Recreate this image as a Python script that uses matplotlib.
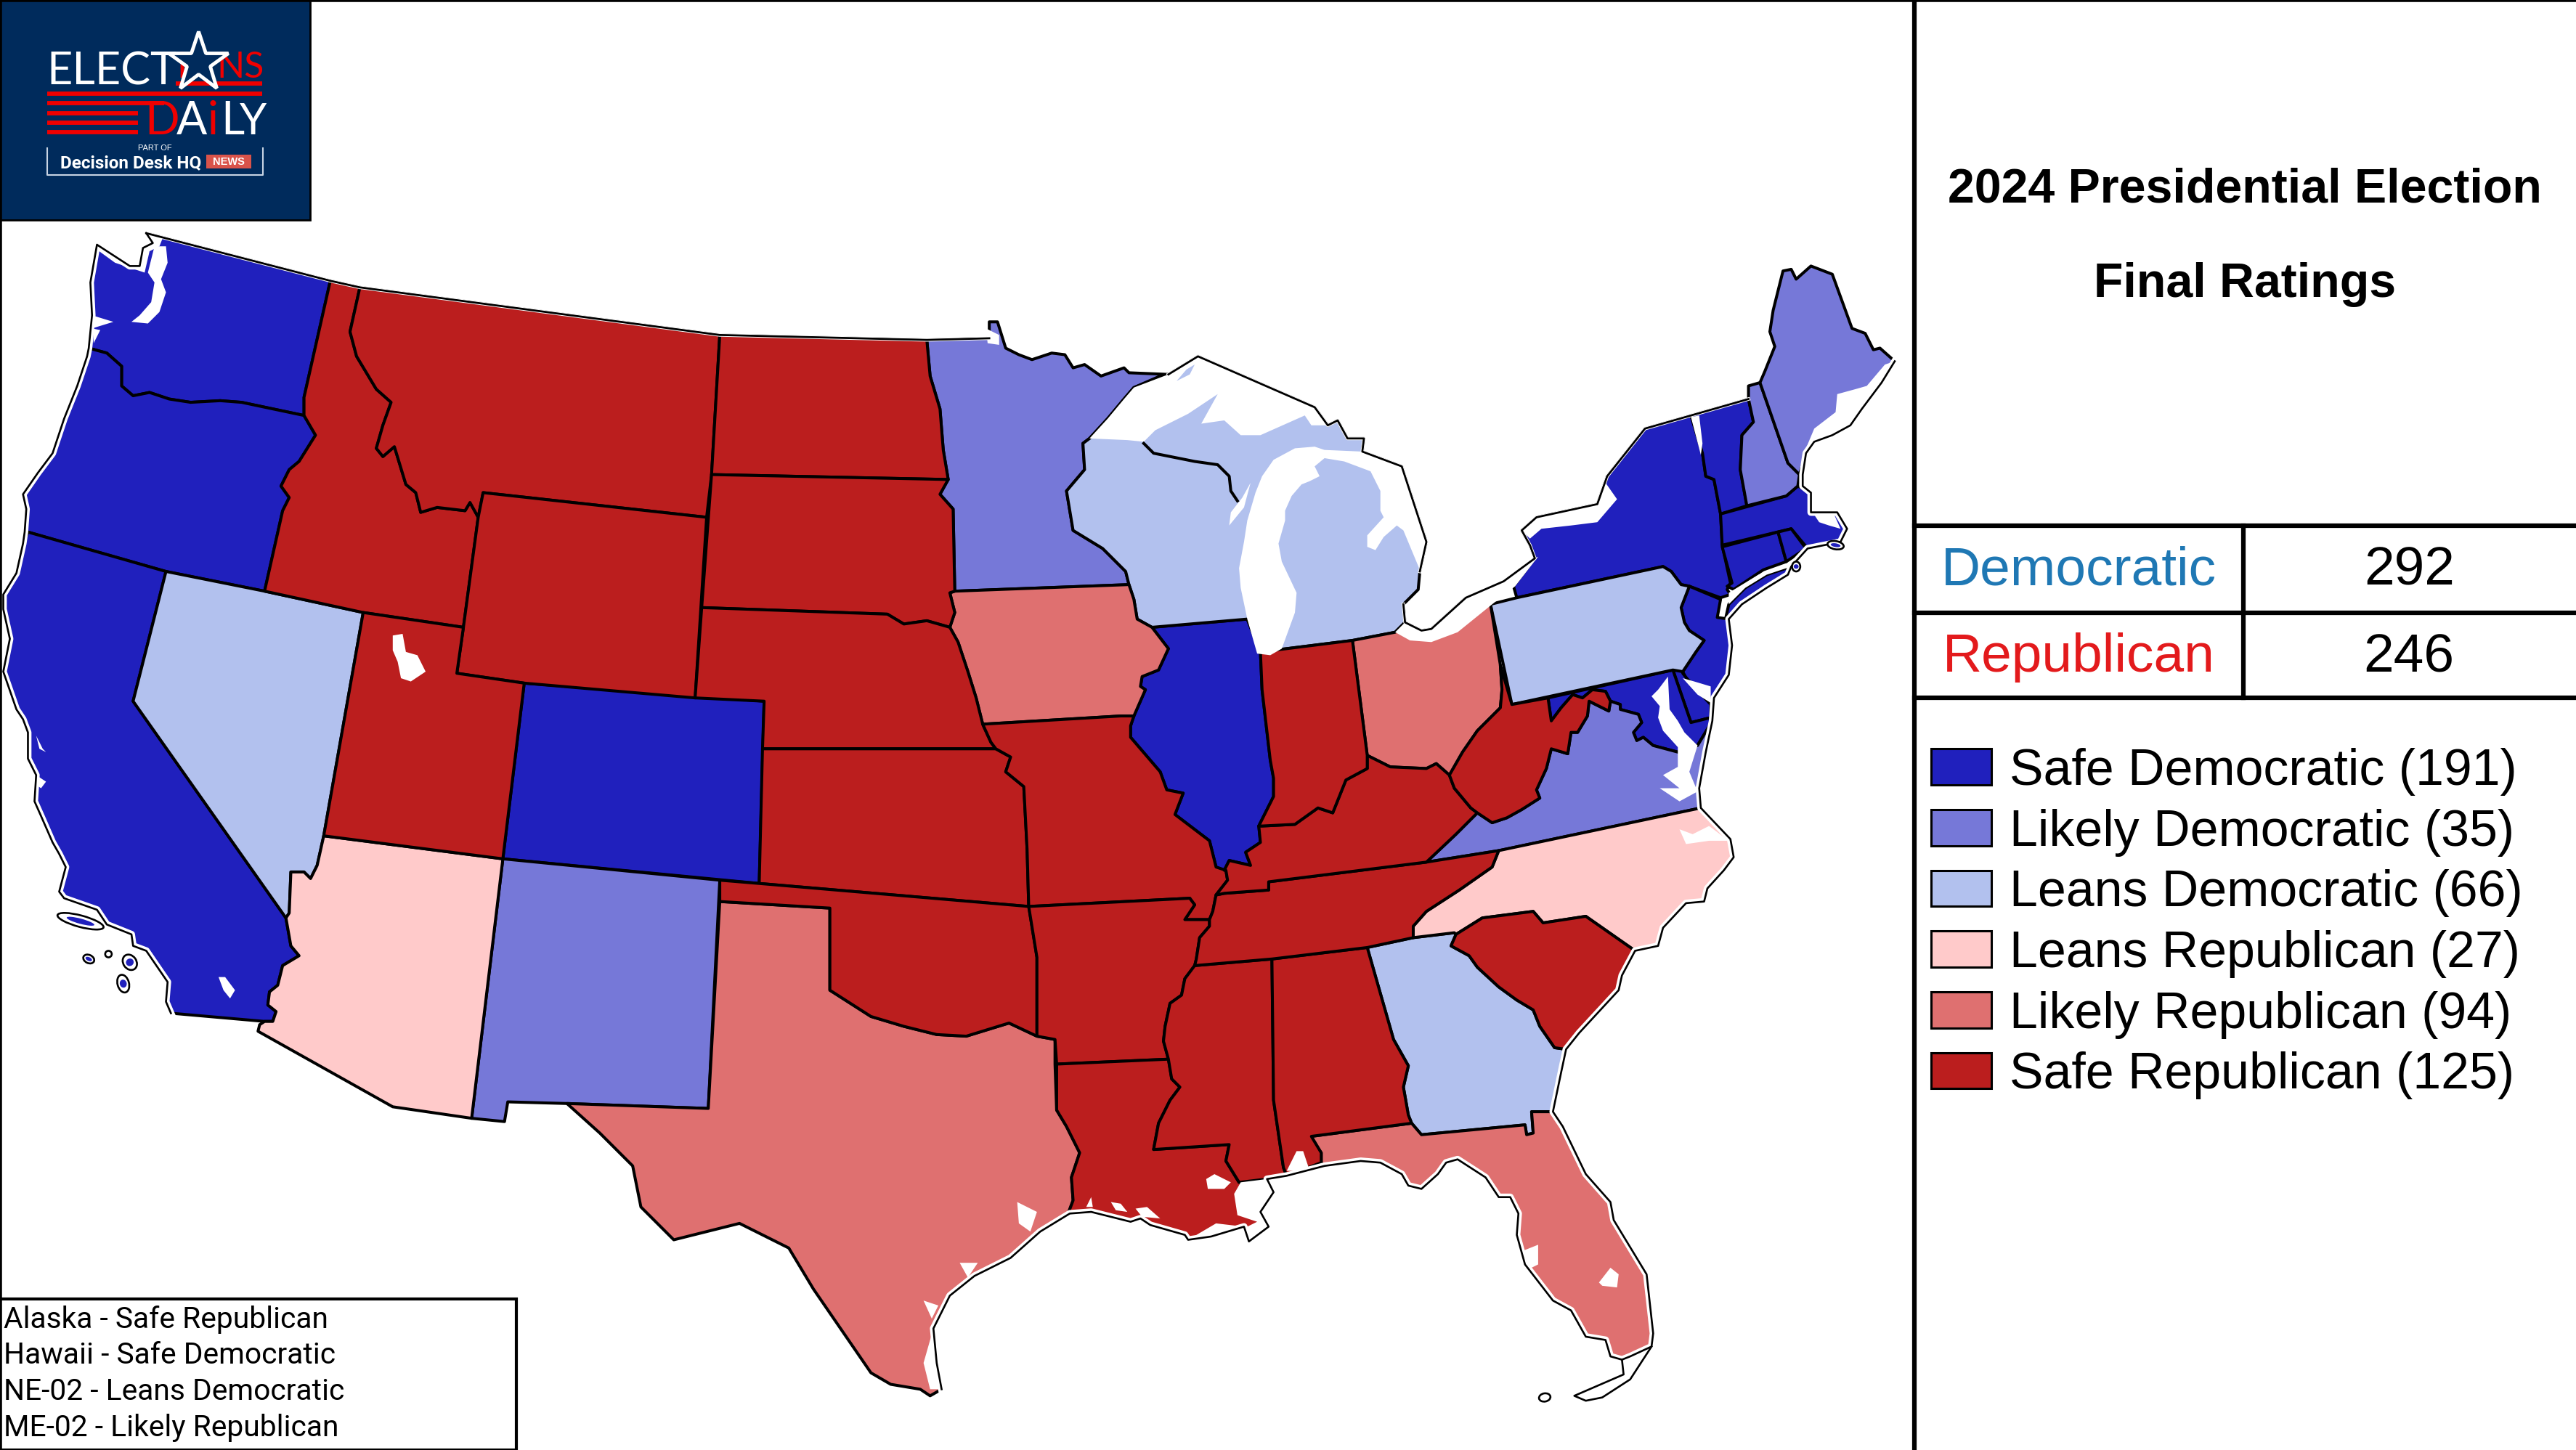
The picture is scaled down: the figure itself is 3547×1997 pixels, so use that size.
import matplotlib
matplotlib.use('Agg')
import matplotlib.pyplot as plt
from matplotlib.patches import Rectangle, Ellipse

# rating classes, in legend order
RATINGS = ['Safe Democratic', 'Likely Democratic', 'Leans Democratic',
           'Leans Republican', 'Likely Republican', 'Safe Republican']
RATING_VOTES = [191, 35, 66, 27, 94, 125]
RATING_COLORS = ['#2020BD', '#7678D8', '#B2C1EE', '#FFCACA', '#DF7070', '#BB1E1E']
TOTAL_LABELS = ['Democratic', 'Republican']
TOTAL_VOTES = [292, 246]
TOTAL_COLORS = ['#1F78B4', '#E31A1C']
NOTES = ['Alaska - Safe Republican', 'Hawaii - Safe Democratic',
         'NE-02 - Leans Democratic', 'ME-02 - Likely Republican']
TITLE_LINES = ['2024 Presidential Election', 'Final Ratings']

# state outlines, x/y in a 1568x883 map frame
SAFE_D = {
    'WA': [(59, 149), (79, 162), (85, 162), (87, 151), (93, 148), (89, 142), (201, 171), (185, 242), (185, 253),
           (147, 245), (134, 244), (116, 245), (103, 243), (91, 239), (81, 241), (74, 235), (74, 223), (65, 215),
           (54, 212), (56, 192), (55, 172)],
    'OR': [(54, 212), (65, 215), (74, 223), (74, 235), (81, 241), (91, 239), (103, 243), (116, 245), (134, 244),
           (147, 245), (185, 253), (192, 265), (182, 281), (176, 286), (171, 296), (176, 303), (172, 311), (161, 360),
           (101, 348), (17, 324), (15, 324), (16, 310), (14, 301), (23, 288), (32, 276), (39, 255), (47, 235),
           (53, 217)],
    'CA': [(17, 324), (101, 348), (81, 427), (174, 559), (177, 576), (182, 582), (172, 588), (169, 600), (164, 604),
           (163, 612), (168, 616), (166, 622), (161, 622), (104, 617), (101, 610), (102, 598), (89, 579), (81, 576),
           (80, 569), (65, 563), (59, 554), (39, 547), (36, 543), (40, 528), (36, 520), (32, 513), (25, 497), (21, 488),
           (22, 472), (17, 462), (17, 446), (14, 438), (10, 432), (2, 409), (6, 389), (2, 371), (2, 362), (10, 349),
           (14, 331)],
    'CO': [(319, 416), (465, 427), (462, 538), (306, 523)],
    'IL': [(701, 382), (759, 377), (767, 397), (768, 420), (773, 463), (775, 474), (775, 485), (766, 503), (767, 513),
           (758, 519), (761, 527), (748, 524), (745, 530), (740, 528), (736, 512), (715, 496), (720, 483), (710, 481),
           (706, 470), (688, 449), (688, 442), (690, 436), (697, 420), (694, 418), (695, 412), (705, 408), (711, 395)],
    'NY': [(923, 364), (921, 357), (934, 340), (931, 332), (926, 323), (935, 315), (972, 307), (978, 290), (1001, 261),
           (1029, 253), (1036, 276), (1038, 290), (1043, 292), (1047, 313), (1048, 332), (1053, 355), (1051, 359),
           (1053, 362), (1047, 364), (1028, 357), (1023, 356), (1017, 348), (1012, 345)],
    'LI': [(1050, 377), (1060, 368), (1075, 358), (1088, 350), (1090, 345), (1075, 350), (1062, 358), (1052, 368)],
    'VT': [(1029, 253), (1064, 243), (1067, 257), (1060, 265), (1059, 286), (1063, 308), (1047, 313), (1043, 292),
           (1038, 290), (1036, 276)],
    'MA': [(1047, 313), (1087, 302), (1094, 296), (1102, 300), (1102, 312), (1118, 312), (1124, 322), (1120, 330),
           (1100, 334), (1090, 322), (1048, 332)],
    'CT': [(1048, 333), (1082, 324), (1087, 342), (1073, 347), (1055, 359), (1051, 357), (1054, 355)],
    'RI': [(1082, 324), (1090, 322), (1099, 334), (1087, 342)],
    'NJ': [(1028, 357), (1047, 365), (1045, 376), (1052, 377), (1054, 393), (1052, 411), (1043, 425), (1041, 426),
           (1026, 413), (1024, 409), (1032, 397), (1037, 390), (1028, 384), (1025, 379), (1023, 370)],
    'DE': [(1018, 408), (1024, 402), (1024, 410), (1028, 415), (1041, 429), (1041, 437), (1029, 440)],
    'MD': [(1018, 408), (1029, 440), (1041, 437), (1042, 439), (1033, 454), (1021, 458), (1006, 454), (1000, 449),
           (996, 451), (994, 446), (999, 440), (997, 435), (986, 432), (986, 429), (980, 427), (977, 421), (969, 420),
           (963, 425), (957, 423), (950, 431), (944, 439), (942, 425)],
}
LIKELY_D = {
    'MN': [(564, 207), (602, 206), (602, 196), (607, 196), (612, 212), (620, 216), (628, 219), (640, 215), (648, 216),
           (653, 224), (660, 222), (670, 229), (684, 224), (687, 227), (711, 228), (706, 229), (690, 236), (684, 243),
           (674, 255), (663, 267), (659, 270), (660, 286), (649, 299), (653, 323), (671, 334), (685, 348), (687, 356),
           (581, 360), (580, 310), (572, 301), (577, 292), (574, 274), (572, 249), (566, 229)],
    'NH': [(1064, 243), (1064, 235), (1071, 233), (1088, 282), (1095, 289), (1094, 296), (1087, 302), (1063, 308),
           (1059, 286), (1060, 265), (1067, 257)],
    'ME': [(1071, 233), (1074, 226), (1080, 211), (1077, 202), (1079, 189), (1085, 165), (1090, 164), (1093, 170),
           (1102, 162), (1115, 167), (1127, 200), (1135, 203), (1140, 213), (1144, 212), (1153, 220), (1145, 233),
           (1133, 249), (1126, 259), (1115, 265), (1104, 269), (1099, 276), (1095, 289), (1088, 282)],
    'VA': [(868, 525), (886, 508), (899, 495), (908, 501), (917, 498), (926, 493), (937, 486), (935, 481), (941, 468),
           (944, 456), (954, 459), (956, 446), (960, 446), (966, 436), (967, 427), (979, 433), (980, 427), (986, 429),
           (986, 432), (997, 435), (999, 440), (994, 446), (996, 451), (1000, 449), (1006, 454), (1021, 458),
           (1033, 454), (1042, 439), (1038, 458), (1034, 480), (1035, 492), (912, 518)],
    'NM': [(306, 523), (438, 536), (431, 675), (345, 672), (309, 671), (307, 683), (287, 681)],
}
LEANS_D = {
    'NV': [(101, 348), (161, 360), (221, 373), (197, 509), (193, 527), (189, 535), (185, 531), (177, 531), (176, 556),
           (174, 559), (81, 427)],
    'WI_MI': [(659, 270), (663, 267), (674, 255), (684, 243), (690, 236), (711, 228), (729, 217), (800, 248),
              (808, 259), (814, 256), (820, 267), (830, 267), (829, 275), (853, 284), (868, 330), (864, 348),
              (863, 359), (854, 368), (855, 379), (849, 385), (823, 390), (767, 397), (759, 377), (701, 382),
              (692, 377), (690, 365), (687, 356), (685, 348), (671, 334), (653, 323), (649, 299), (660, 286)],
    'PA': [(907, 368), (923, 364), (1012, 345), (1017, 348), (1023, 356), (1028, 357), (1023, 370), (1025, 379),
           (1028, 384), (1037, 390), (1032, 397), (1024, 409), (1018, 408), (920, 429)],
    'GA': [(832, 577), (860, 571), (885, 568), (886, 569), (883, 576), (894, 582), (899, 589), (912, 601), (923, 609),
           (933, 615), (937, 625), (946, 638), (953, 639), (950, 653), (945, 677), (932, 677), (933, 690), (929, 691),
           (928, 685), (865, 691), (859, 684), (857, 679), (854, 662), (857, 649), (848, 633)],
}
LEANS_R = {
    'AZ': [(197, 509), (306, 523), (287, 681), (239, 674), (157, 628), (158, 624), (161, 622), (166, 622), (168, 616),
           (163, 612), (164, 604), (169, 600), (172, 588), (182, 582), (177, 576), (174, 559), (176, 556), (177, 531),
           (185, 531), (189, 535), (193, 527)],
    'NC': [(912, 518), (1035, 492), (1053, 511), (1055, 522), (1049, 530), (1039, 541), (1037, 549), (1026, 550),
           (1012, 565), (1009, 576), (995, 579), (965, 558), (939, 562), (933, 555), (902, 559), (886, 569), (885, 568),
           (860, 571), (860, 564), (868, 555), (888, 542), (908, 528)],
}
LIKELY_R = {
    'IA': [(581, 360), (687, 356), (690, 365), (692, 377), (701, 382), (711, 395), (705, 408), (695, 412), (694, 418),
           (697, 420), (690, 436), (682, 436), (598, 441), (594, 425), (589, 409), (583, 391), (578, 382), (581, 373),
           (578, 361)],
    'OH': [(823, 390), (849, 385), (855, 379), (865, 384), (871, 383), (892, 364), (907, 358), (907, 368), (913, 405),
           (914, 420), (913, 431), (899, 445), (890, 458), (882, 472), (874, 465), (868, 468), (846, 467), (832, 460)],
    'TX': [(438, 549), (505, 553), (505, 603), (530, 619), (550, 625), (570, 630), (588, 631), (614, 623), (631, 631),
           (642, 633), (642, 648), (643, 676), (649, 686), (657, 702), (652, 717), (653, 731), (650, 739), (651, 739),
           (633, 750), (615, 766), (593, 777), (578, 789), (568, 809), (570, 830), (573, 846), (566, 850), (560, 846),
           (542, 843), (530, 836), (495, 785), (480, 760), (450, 745), (430, 750), (410, 755), (390, 735), (385, 710),
           (365, 690), (345, 672), (431, 675)],
    'FL': [(798, 692), (859, 684), (865, 691), (928, 685), (929, 691), (933, 690), (932, 677), (945, 677), (951, 686),
           (965, 715), (980, 732), (982, 743), (1002, 776), (1006, 812), (1005, 820), (992, 826), (987, 828), (980, 826),
           (977, 816), (965, 814), (956, 798), (945, 792), (928, 770), (923, 752), (924, 739), (919, 729), (912, 729),
           (904, 717), (887, 706), (880, 708), (875, 715), (865, 724), (857, 722), (853, 715), (840, 708), (828, 707),
           (806, 710), (804, 708), (804, 702), (798, 694)],
}
SAFE_R = {
    'ID': [(201, 171), (219, 175), (213, 202), (217, 217), (229, 237), (238, 245), (233, 259), (229, 273), (233, 278),
           (240, 272), (247, 295), (253, 300), (256, 312), (266, 309), (283, 311), (286, 306), (291, 315), (282, 382),
           (221, 373), (161, 360), (172, 311), (176, 303), (171, 296), (176, 286), (182, 281), (192, 265), (185, 253),
           (185, 242)],
    'MT': [(219, 175), (438, 204), (433, 289), (430, 315), (294, 300), (291, 315), (286, 306), (283, 311), (266, 309),
           (256, 312), (253, 300), (247, 295), (240, 272), (233, 278), (229, 273), (233, 259), (238, 245), (229, 237),
           (217, 217), (213, 202)],
    'WY': [(294, 300), (430, 315), (423, 425), (319, 416), (278, 410), (282, 382), (291, 315)],
    'UT': [(221, 373), (282, 382), (278, 410), (319, 416), (306, 523), (197, 509)],
    'ND': [(438, 204), (564, 207), (566, 229), (572, 249), (574, 274), (577, 292), (433, 289)],
    'SD': [(433, 289), (577, 292), (572, 301), (580, 310), (581, 360), (578, 361), (581, 373), (578, 382), (564, 378),
           (550, 380), (540, 374), (427, 370)],
    'NE': [(427, 370), (540, 374), (550, 380), (564, 378), (578, 382), (583, 391), (589, 409), (594, 425), (598, 441),
           (603, 452), (606, 456), (464, 456), (465, 427), (423, 425)],
    'KS': [(464, 456), (606, 456), (615, 461), (612, 470), (623, 479), (625, 517), (626, 552), (462, 538)],
    'OK': [(438, 536), (462, 538), (626, 552), (631, 583), (631, 631), (614, 623), (588, 631), (570, 630), (550, 625),
           (530, 619), (505, 603), (505, 553), (438, 549)],
    'MO': [(598, 441), (682, 436), (690, 436), (688, 442), (688, 449), (706, 470), (710, 481), (720, 483), (715, 496),
           (736, 512), (740, 528), (746, 530), (747, 536), (740, 545), (738, 555), (736, 560), (721, 560), (727, 551),
           (724, 547), (626, 552), (625, 517), (623, 479), (612, 470), (615, 461), (606, 456), (603, 452)],
    'AR': [(626, 552), (724, 547), (727, 551), (721, 560), (736, 560), (736, 564), (730, 571), (728, 584), (727, 588),
           (721, 596), (719, 606), (712, 611), (709, 625), (708, 634), (711, 645), (643, 648), (642, 633), (631, 631),
           (631, 583)],
    'LA': [(643, 648), (711, 645), (713, 657), (718, 662), (712, 670), (705, 684), (702, 700), (748, 697), (746, 707),
           (754, 720), (771, 718), (775, 726), (767, 738), (772, 747), (760, 756), (757, 747), (737, 753), (723, 755),
           (721, 752), (700, 746), (694, 742), (688, 744), (664, 738), (651, 739), (650, 739), (653, 731), (652, 717),
           (657, 702), (649, 686), (643, 676)],
    'MS': [(727, 588), (774, 584), (775, 670), (781, 711), (783, 716), (771, 718), (754, 720), (746, 707), (748, 697),
           (702, 700), (705, 684), (712, 670), (718, 662), (713, 657), (711, 645), (708, 634), (709, 625), (712, 611),
           (719, 606), (721, 596)],
    'AL': [(774, 584), (832, 577), (848, 633), (857, 649), (854, 662), (857, 679), (859, 684), (798, 692), (804, 702),
           (804, 708), (783, 716), (781, 711), (775, 670)],
    'TN': [(740, 545), (745, 544), (772, 542), (772, 537), (868, 525), (912, 518), (908, 528), (888, 542), (868, 555),
           (860, 564), (860, 571), (832, 577), (774, 584), (727, 588), (728, 584), (730, 571), (736, 564), (736, 560),
           (738, 555)],
    'KY': [(766, 503), (768, 503), (788, 502), (802, 492), (811, 495), (819, 475), (832, 468), (832, 460), (846, 467),
           (868, 468), (874, 465), (882, 472), (885, 480), (895, 492), (899, 495), (886, 508), (868, 525), (772, 537),
           (772, 542), (745, 544), (740, 545), (747, 536), (746, 530), (745, 530), (748, 524), (761, 527), (758, 519),
           (767, 513)],
    'IN': [(767, 397), (823, 390), (832, 460), (832, 468), (819, 475), (811, 495), (802, 492), (788, 502), (768, 503),
           (766, 503), (775, 485), (775, 474), (773, 463), (768, 420)],
    'WV': [(913, 405), (920, 429), (942, 425), (944, 439), (950, 431), (957, 423), (963, 425), (969, 420), (977, 421),
           (980, 427), (979, 433), (967, 427), (966, 436), (960, 446), (956, 446), (954, 459), (944, 456), (941, 468),
           (935, 481), (937, 486), (926, 493), (917, 498), (908, 501), (899, 495), (895, 492), (885, 480), (882, 472),
           (890, 458), (899, 445), (913, 431), (914, 420)],
    'SC': [(883, 576), (886, 569), (902, 559), (933, 555), (939, 562), (965, 558), (995, 579), (987, 594), (985, 603),
           (973, 616), (961, 629), (953, 639), (946, 638), (937, 625), (933, 615), (923, 609), (912, 601), (899, 589),
           (894, 582)],
}
STATE_GROUPS = [SAFE_D, LIKELY_D, LEANS_D, LEANS_R, LIKELY_R, SAFE_R]

# water laid over the state fills
LAKE_SUPERIOR = [(663, 267), (674, 255), (684, 243), (690, 236), (711, 228), (729, 217), (800, 248), (808, 259),
                 (798, 259), (794, 253), (767, 265), (755, 265), (745, 256), (731, 258), (741, 240), (723, 252),
                 (703, 262), (696, 269), (686, 268)]
LAKE_MICHIGAN_HURON = [(759, 377), (755, 358), (754, 346), (757, 330), (759, 317), (764, 300), (768, 290), (775, 280),
                       (788, 273), (800, 272), (806, 274), (829, 275), (853, 284), (868, 330), (864, 347), (859, 335),
                       (854, 323), (850, 320), (842, 327), (837, 335), (832, 333), (832, 326), (842, 315), (840, 311),
                       (840, 299), (834, 287), (818, 281), (806, 279), (800, 284), (803, 290), (797, 293), (792, 295),
                       (786, 302), (782, 311), (782, 317), (778, 331), (780, 342), (789, 361), (788, 373), (780, 395),
                       (773, 399), (765, 398)]
GREEN_BAY = [(748, 320), (749, 312), (756, 303), (761, 294), (757, 309)]
LAKE_ERIE = [(849, 385), (858, 390), (871, 391), (887, 385), (908, 368), (922, 357), (936, 339), (934, 340), (915, 354),
             (892, 364), (871, 383), (865, 384), (855, 379)]
LAKE_ONTARIO = [(931, 328), (938, 322), (956, 320), (972, 318), (984, 304), (977, 294), (978, 290), (972, 307),
                (935, 315), (926, 323)]
SALT_LAKE = [(239, 387), (245, 386), (247, 397), (254, 399), (259, 409), (250, 415), (244, 413), (242, 403), (239, 396)]
SALTON_SEA = [(133, 595), (137, 595), (143, 603), (140, 608), (136, 603)]
STRAIT = [(59, 149), (79, 162), (85, 162), (87, 151), (93, 148), (89, 142), (99, 145), (97, 150), (91, 153), (88, 166),
          (70, 160), (59, 152)]
PUGET = [(94, 150), (101, 150), (102, 160), (98, 170), (101, 178), (97, 190), (90, 197), (80, 196), (85, 192),
         (92, 184), (94, 172), (90, 166)]
GRAYS_HARBOR = [(56, 192), (69, 196), (56, 200), (61, 201), (57, 209)]
SF_BAY = [(22, 448), (26, 456), (28, 458), (24, 456)]
MONTEREY = [(22, 472), (28, 476), (25, 480), (22, 478)]
CHESAPEAKE = [(1015, 412), (1009, 420), (1005, 424), (1010, 430), (1009, 437), (1012, 445), (1021, 455), (1021, 467),
              (1012, 472), (1022, 480), (1010, 480), (1022, 488), (1033, 482), (1028, 470), (1033, 454), (1025, 446),
              (1021, 439), (1016, 432)]
DELAWARE_BAY = [(1024, 413), (1031, 415), (1041, 418), (1041, 428), (1033, 423)]
LI_SOUND = [(1052, 361), (1070, 350), (1088, 343), (1090, 345), (1075, 350), (1062, 358), (1052, 368)]
CHAMPLAIN = [(1029, 254), (1034, 253), (1036, 270), (1035, 277)]
CAPE_COD_BAY = [(1103, 312), (1116, 313), (1120, 322), (1113, 320), (1107, 318)]
MAINE_BAYS = [(1153, 220), (1147, 222), (1136, 235), (1129, 237), (1118, 240), (1117, 251), (1104, 261), (1099, 273),
              (1097, 286), (1095, 289), (1099, 276), (1104, 269), (1115, 265), (1126, 259), (1133, 249), (1145, 233)]
PAMLICO = [(1022, 505), (1026, 514), (1040, 512), (1052, 512), (1040, 503), (1030, 508)]
LAKE_OF_WOODS = [(600, 200), (608, 204), (608, 210), (601, 209)]
PONTCHARTRAIN = [(734, 718), (739, 715), (749, 720), (745, 724), (735, 724)]
DELTA_EAST = [(755, 720), (771, 718), (775, 726), (767, 738), (772, 747), (760, 756), (757, 748), (765, 744),
              (753, 740), (751, 727)]
DELTA_WEST = [(723, 755), (740, 745), (757, 747), (737, 753)]
VERMILION = [(691, 736), (698, 735), (706, 742), (695, 741)]
MARSH = [(676, 732), (682, 733), (686, 738), (679, 737)]
CALCASIEU = [(661, 735), (664, 729), (665, 735)]
GALVESTON = [(619, 732), (631, 738), (627, 750), (620, 745)]
MATAGORDA = [(584, 769), (595, 769), (589, 778)]
CORPUS = [(562, 792), (571, 795), (567, 803)]
LAGUNA = [(562, 830), (568, 809), (570, 830), (573, 846), (566, 846)]
MOBILE_BAY = [(789, 701), (793, 701), (797, 713), (783, 713)]
OKEECHOBEE = [(973, 781), (980, 772), (985, 776), (984, 784), (975, 783)]
TAMPA_BAY = [(926, 762), (936, 758), (936, 770), (930, 773)]
WATER = [LAKE_SUPERIOR, LAKE_MICHIGAN_HURON, GREEN_BAY, LAKE_ERIE, LAKE_ONTARIO, SALT_LAKE, SALTON_SEA, STRAIT, PUGET,
         GRAYS_HARBOR, SF_BAY, MONTEREY, CHESAPEAKE, DELAWARE_BAY, LI_SOUND, CHAMPLAIN, CAPE_COD_BAY, MAINE_BAYS,
         PAMLICO, LAKE_OF_WOODS, PONTCHARTRAIN, DELTA_EAST, DELTA_WEST, VERMILION, MARSH, CALCASIEU, GALVESTON,
         MATAGORDA, CORPUS, LAGUNA, MOBILE_BAY, OKEECHOBEE, TAMPA_BAY]

ISLE_ROYALE = [(716, 232), (722, 225), (727, 222), (724, 228)]
WI_MI_BORDER = [(696, 270), (702, 276), (727, 281), (741, 283), (748, 290), (749, 299), (753, 305)]

# shore lines: thin black line with a white band on the land side
WEST_COAST = [(89, 142), (93, 148), (87, 151), (85, 162), (79, 162), (59, 149), (55, 172), (56, 192), (54, 212),
              (53, 217), (47, 235), (39, 255), (32, 276), (23, 288), (14, 301), (16, 310), (15, 324), (14, 331),
              (10, 349), (2, 362), (2, 371), (6, 389), (2, 409), (10, 432), (14, 438), (17, 446), (17, 462), (22, 472),
              (21, 488), (25, 497), (32, 513), (36, 520), (40, 528), (36, 543), (39, 547), (59, 554), (65, 563),
              (80, 569), (81, 576), (89, 579), (102, 598), (101, 610), (104, 617)]
EAST_COAST = [(1153, 220), (1145, 233), (1133, 249), (1126, 259), (1115, 265), (1104, 269), (1099, 276), (1097, 289),
              (1097, 296), (1102, 300), (1102, 312), (1118, 312), (1124, 322), (1120, 330), (1100, 334), (1090, 345),
              (1088, 350), (1075, 358), (1060, 368), (1052, 377), (1054, 393), (1052, 411), (1043, 425), (1042, 439),
              (1038, 458), (1034, 480), (1035, 492), (1053, 511), (1055, 522), (1049, 530), (1039, 541), (1037, 549),
              (1026, 550), (1012, 565), (1009, 576), (995, 579), (987, 594), (985, 603), (973, 616), (961, 629),
              (953, 639), (950, 653), (945, 677), (951, 686), (965, 715), (980, 732), (982, 743), (1002, 776),
              (1006, 812), (1005, 820), (992, 826), (987, 828), (980, 826), (977, 816), (965, 814), (956, 798),
              (945, 792), (928, 770), (923, 752), (924, 739), (919, 729), (912, 729), (904, 717), (887, 706), (880, 708),
              (875, 715), (865, 724), (857, 722), (853, 715), (840, 708), (828, 707), (806, 710), (783, 716), (771, 718),
              (775, 726), (767, 738), (772, 747), (760, 756), (757, 747), (737, 753), (723, 755), (721, 752), (700, 746),
              (694, 742), (688, 744), (664, 738), (651, 739), (633, 750), (615, 766), (593, 777), (578, 789), (568, 809),
              (570, 830), (573, 846)]
KEYS = [(1005, 820), (992, 840), (975, 851), (965, 853), (958, 850), (988, 837), (987, 828)]
# lake and border lines drawn thin, no band
LAKE_LINE_UPPER = [(711, 228), (729, 217), (800, 248), (808, 259), (814, 256), (820, 267), (830, 267), (829, 275),
                   (853, 284), (868, 330), (864, 348)]
LAKE_LINE_LOWER = [(854, 368), (855, 379), (865, 384), (871, 383), (892, 364), (915, 354), (934, 340), (931, 332),
                   (926, 323), (935, 315), (972, 307), (978, 290), (1001, 261), (1029, 253), (1064, 243)]
NORTH_BORDER = [(89, 142), (201, 171), (219, 175), (438, 204), (564, 207), (602, 206)]

# x, y, width, height, angle, filled
ISLANDS = [(49, 561, 29, 7, 15, True), (54, 584, 7, 5, 25, True), (66, 581, 4, 4, 0, False), (79, 586, 8, 10, -35, True),
           (75, 599, 7, 11, -15, True), (940, 851, 7, 5, -10, False), (1093, 345, 5, 6, 0, True),
           (1117, 332, 10, 5, 10, True)]

plt.rcParams['font.family'] = ['Liberation Sans', 'DejaVu Sans']

fig = plt.figure(figsize=(35.48, 19.97), dpi=100)
ax = fig.add_axes([0, 0, 1, 1])
ax.set_xlim(0, 1568)
ax.set_ylim(883, 0)
ax.axis('off')

BORDER = 2.9
PANEL = 4.5
NAVY = '#002B5C'
LOGO_RED = '#F00000'

for group, color in zip(STATE_GROUPS, RATING_COLORS):
    for name, outline in group.items():
        xs, ys = zip(*outline)
        ax.fill(xs, ys, facecolor=color, edgecolor='black', linewidth=BORDER, joinstyle='round', zorder=2)

for patch in WATER:
    xs, ys = zip(*patch)
    ax.fill(xs, ys, facecolor='white', edgecolor='none', zorder=3)
xs, ys = zip(*ISLE_ROYALE)
ax.fill(xs, ys, facecolor=RATING_COLORS[2], edgecolor='none', zorder=4)
xs, ys = zip(*WI_MI_BORDER)
ax.plot(xs, ys, color='black', lw=BORDER, zorder=4)

for line in [WEST_COAST, EAST_COAST, KEYS]:
    xs, ys = zip(*line)
    ax.plot(xs, ys, color='white', lw=7, zorder=4, solid_joinstyle='round')
    ax.plot(xs, ys, color='black', lw=1.9, zorder=5, solid_joinstyle='round')
for line in [LAKE_LINE_UPPER, LAKE_LINE_LOWER, NORTH_BORDER]:
    xs, ys = zip(*line)
    ax.plot(xs, ys, color='white', lw=3.4, zorder=4)
    ax.plot(xs, ys, color='black', lw=2.0, zorder=5)
for x, y, w, h, angle, filled in ISLANDS:
    ax.add_patch(Ellipse((x, y), w, h, angle=angle, facecolor='white', edgecolor='black', lw=1.9, zorder=5))
    if filled:
        ax.add_patch(Ellipse((x, y), w * 0.6, h * 0.45, angle=angle, facecolor=RATING_COLORS[0], edgecolor='none',
                             zorder=6))

# logo block
ax.add_patch(Rectangle((0, 0), 188.5, 134, facecolor=NAVY, edgecolor='black', lw=2, zorder=6))
ax.text(28.5, 51.5, 'ELECT', color='white', fontsize=44, family='Lato', va='baseline', zorder=7)
ax.text(107.5, 47.5, 'I', color=LOGO_RED, fontsize=36, family='Lato', va='baseline', zorder=7)
ax.text(132, 47.5, 'NS', color=LOGO_RED, fontsize=36, family='Lato', va='baseline', zorder=7)
ax.plot(120.8, 38, '*', ms=62, mfc=NAVY, mec='white', mew=3.5, zorder=8)
for y, x0, x1 in [(50.8, 107, 159.5), (57, 28.7, 159.5), (63, 28.7, 100), (69, 28.7, 84), (74.8, 28.7, 84),
                  (80.6, 28.7, 84)]:
    ax.plot([x0, x1], [y, y], color=LOGO_RED, lw=4.2, solid_capstyle='butt', zorder=7)
ax.text(88, 82, 'D', color=LOGO_RED, fontsize=45, family='Lato', va='baseline', zorder=7)
ax.text(107.5, 82, 'A', color='white', fontsize=45, family='Lato', va='baseline', zorder=7)
ax.text(126, 82, 'i', color=LOGO_RED, fontsize=45, family='Lato', va='baseline', zorder=7)
ax.text(134.5, 82, 'L', color='white', fontsize=45, family='Lato', va='baseline', zorder=7)
ax.text(146, 82, 'Y', color='white', fontsize=43, family='Lato', va='baseline', zorder=7)
ax.plot([28.7, 28.7, 159.8, 159.8], [90, 106.6, 106.6, 90], color='#C8D4E4', lw=1.5, zorder=7)
ax.text(94.3, 90, 'PART OF', color='white', fontsize=8, ha='center', va='center', zorder=7)
ax.text(36.5, 102, 'Decision Desk HQ', color='white', fontsize=17.5, family='Roboto', fontweight='bold',
        va='baseline', zorder=7)
ax.add_patch(Rectangle((125.5, 94.3), 27.5, 8.1, facecolor='#D9534A', edgecolor='none', zorder=7))
ax.text(139, 98.4, 'NEWS', color='white', fontsize=10.5, fontweight='bold', ha='center', va='center', zorder=8)

# right hand panel
ax.add_patch(Rectangle((1165, 0), 403, 883, facecolor='white', edgecolor='none', zorder=6))
ax.plot([1165, 1165], [0, 883], color='black', lw=PANEL, zorder=7)
for y in [320, 373, 425]:
    ax.plot([1165, 1568], [y, y], color='black', lw=PANEL, zorder=7)
ax.plot([1365, 1365], [320, 425], color='black', lw=PANEL, zorder=7)

for y, line in zip([115.5, 173.5], TITLE_LINES):
    ax.text(1366, y, line, fontsize=47.7, fontweight='bold', ha='center', va='center', zorder=8)
for y, label, votes, color in zip([347.5, 400.5], TOTAL_LABELS, TOTAL_VOTES, TOTAL_COLORS):
    ax.text(1265, y, label, color=color, fontsize=54, ha='center', va='center', zorder=8)
    ax.text(1466, y, str(votes), color='black', fontsize=54, ha='center', va='center', zorder=8)
for i, (label, votes, color) in enumerate(zip(RATINGS, RATING_VOTES, RATING_COLORS)):
    y = 467 + i * 37
    ax.add_patch(Rectangle((1175, y - 11), 37, 22, facecolor=color, edgecolor='black', lw=2.2, zorder=8))
    ax.text(1223, y + 3, '%s (%d)' % (label, votes), fontsize=50.3, ha='left', va='center', zorder=8)

# notes box bottom left
ax.add_patch(Rectangle((0, 791), 314, 92, facecolor='white', edgecolor='black', lw=3, zorder=6))
for i, note in enumerate(NOTES):
    ax.text(2, 803.5 + i * 22, note, fontsize=29.3, family='Roboto', ha='left', va='center', zorder=7)

# frame of the whole picture
ax.plot([0, 0], [0, 883], color='black', lw=4, zorder=9)
ax.plot([0, 1568], [0, 0], color='black', lw=4, zorder=9)

fig.savefig('out.png', dpi=100)
